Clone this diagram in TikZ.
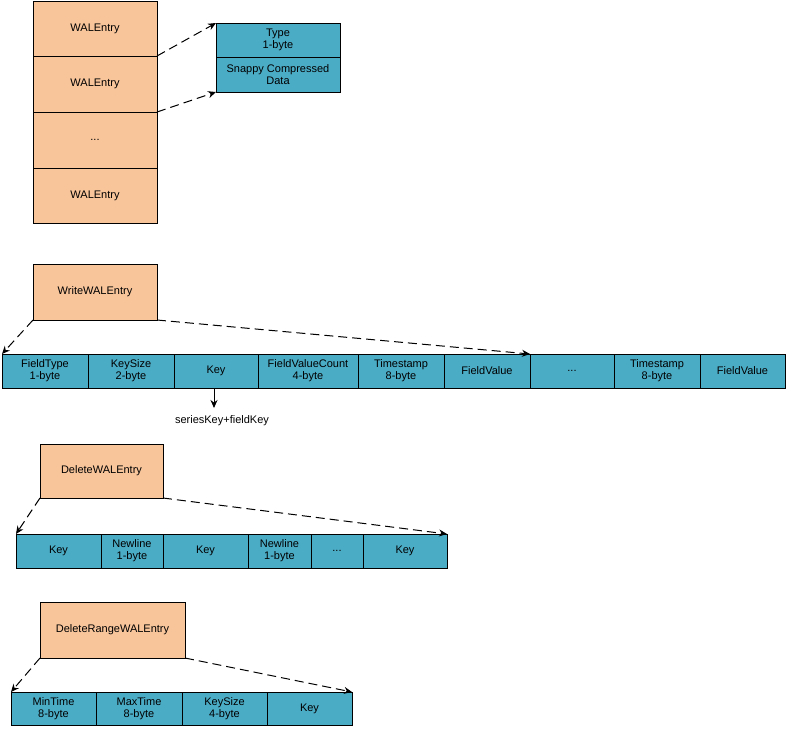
\documentclass[tikz,border=0pt]{standalone}
\usepackage{fontspec}
\setmainfont{Liberation Sans}
\usetikzlibrary{arrows.meta}
\begin{document}
\begin{tikzpicture}[x=1pt,y=-1pt,
  ob/.style={draw=black,fill=orange!45!white,fill={rgb,255:red,248;green,197;blue,155},line width=0.8pt},
  bb/.style={draw=black,fill={rgb,255:red,75;green,172;blue,198},line width=0.8pt},
  lbl/.style={font=\fontsize{11}{12}\selectfont,align=center,inner sep=0pt},
  da/.style={dashed,dash pattern=on 9pt off 5pt,line width=1pt,-{Stealth[length=8pt,width=7pt]}},
  sa/.style={line width=1pt,-{Stealth[length=8pt,width=7pt]}}]
\useasboundingbox (0,0) rectangle (787,729);
\newcommand{\bx}[6]{\draw[#1] (#2,#3) rectangle (#4,#5); \node[lbl] at ({(#2+#4)/2},{(#3+#5)/2}) {#6};}
% top stack
\bx{ob}{33}{1}{157}{56}{WALEntry}
\bx{ob}{33}{56}{157}{112}{WALEntry}
\bx{ob}{33}{112}{157}{168}{...}
\bx{ob}{33}{168}{157}{223}{WALEntry}
\bx{bb}{216}{23}{340}{57}{Type\\1-byte}
\bx{bb}{216}{57}{340}{92}{Snappy Compressed\\Data}
\coordinate (a1) at (157,56); \coordinate (b1) at (216,23);
\coordinate (a2) at (157,112); \coordinate (b2) at (216,92);
\draw[da] (a1) -- (b1); \draw[da] (a2) -- (b2);
% write
\bx{ob}{33}{264}{157}{320}{WriteWALEntry}
\bx{bb}{2}{354}{88}{388}{FieldType\\1-byte}
\bx{bb}{88}{354}{174}{388}{KeySize\\2-byte}
\bx{bb}{174}{354}{258}{388}{Key}
\bx{bb}{258}{354}{358}{388}{FieldValueCount\\4-byte}
\bx{bb}{358}{354}{444}{388}{Timestamp\\8-byte}
\bx{bb}{444}{354}{530}{388}{FieldValue}
\bx{bb}{530}{354}{614}{388}{...}
\bx{bb}{614}{354}{700}{388}{Timestamp\\8-byte}
\bx{bb}{700}{354}{785}{388}{FieldValue}
\coordinate (w1) at (33,320); \coordinate (w2) at (2,354);
\coordinate (w3) at (157,320); \coordinate (w4) at (530,354);
\draw[da] (w1) -- (w2); \draw[da] (w3) -- (w4);
\coordinate (k1) at (214,388);
\node[lbl,anchor=north] (sk) at (222,415) {seriesKey+fieldKey};
\draw[sa] (k1) -- (214,408);
% delete
\bx{ob}{40}{444}{163}{498}{DeleteWALEntry}
\bx{bb}{16}{534}{101}{568}{Key}
\bx{bb}{101}{534}{163}{568}{Newline\\1-byte}
\bx{bb}{163}{534}{248}{568}{Key}
\bx{bb}{248}{534}{311}{568}{Newline\\1-byte}
\bx{bb}{311}{534}{363}{568}{...}
\bx{bb}{363}{534}{447}{568}{Key}
\coordinate (d1) at (40,498); \coordinate (d2) at (16,534);
\coordinate (d3) at (163,498); \coordinate (d4) at (447,534);
\draw[da] (d1) -- (d2); \draw[da] (d3) -- (d4);
% delete range
\bx{ob}{40}{602}{185}{658}{DeleteRangeWALEntry}
\bx{bb}{11}{692}{96}{725}{MinTime\\8-byte}
\bx{bb}{96}{692}{182}{725}{MaxTime\\8-byte}
\bx{bb}{182}{692}{267}{725}{KeySize\\4-byte}
\bx{bb}{267}{692}{352}{725}{Key}
\coordinate (r1) at (40,658); \coordinate (r2) at (11,692);
\coordinate (r3) at (185,658); \coordinate (r4) at (352,692);
\draw[da] (r1) -- (r2); \draw[da] (r3) -- (r4);
\end{tikzpicture}
\end{document}
